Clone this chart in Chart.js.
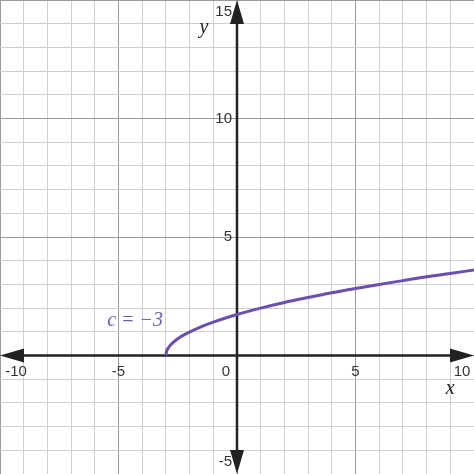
<!DOCTYPE html>
<html lang="en">
<head>
    <meta charset="UTF-8">
    <title>y = sqrt(x + 3)</title>
    <script src="https://cdn.jsdelivr.net/npm/chart.js"></script>
    <style>
        body, html {
            margin: 0;
            padding: 0;
            background: #fff;
        }
        canvas {
            display: block;
        }
    </style>
</head>
<body>
    <canvas id="graph" width="474" height="474"></canvas>
    <script>
        // points
        const curveX = [-3, -2.98, -2.9, -2.75, -2.5, -2.2, -1.5, -1, 0, 1, 2, 3, 4, 5, 6, 7, 8, 9, 10];
        const curveY = [0, 0.14, 0.32, 0.5, 0.71, 0.89, 1.22, 1.41, 1.73, 2, 2.24, 2.45, 2.65, 2.83, 3, 3.16, 3.32, 3.46, 3.61];

        const xTickLabels = [-10, -5, 0, 5, 10];
        const yTickLabels = [-5, 5, 10, 15];
        const curveLabel = 'c = \u22123';

        const xRange = [-10, 10];
        const yRange = [-5, 15];

        const axesPlugin = {
            id: 'axes',
            beforeDatasetsDraw(chart) {
                const ctx = chart.ctx;
                const xs = chart.scales.x;
                const ys = chart.scales.y;
                const x0 = xs.getPixelForValue(0);
                const y0 = ys.getPixelForValue(0);
                const left = chart.chartArea.left, right = chart.chartArea.right;
                const top = chart.chartArea.top, bottom = chart.chartArea.bottom;

                ctx.save();
                ctx.strokeStyle = '#222';
                ctx.fillStyle = '#222';
                ctx.lineWidth = 2.5;
                ctx.beginPath();
                ctx.moveTo(left + 10, y0); ctx.lineTo(right - 10, y0);
                ctx.moveTo(x0, top + 10); ctx.lineTo(x0, bottom - 10);
                ctx.stroke();

                // arrow heads
                const a = 24, w = 7;
                ctx.beginPath();
                ctx.moveTo(left, y0); ctx.lineTo(left + a, y0 - w); ctx.lineTo(left + a, y0 + w); ctx.closePath();
                ctx.moveTo(right, y0); ctx.lineTo(right - a, y0 - w); ctx.lineTo(right - a, y0 + w); ctx.closePath();
                ctx.moveTo(x0, top); ctx.lineTo(x0 - w, top + a); ctx.lineTo(x0 + w, top + a); ctx.closePath();
                ctx.moveTo(x0, bottom); ctx.lineTo(x0 - w, bottom - a); ctx.lineTo(x0 + w, bottom - a); ctx.closePath();
                ctx.fill();

                // tick labels
                ctx.fillStyle = '#333';
                ctx.font = '15px "Liberation Sans", Arial, sans-serif';
                ctx.textBaseline = 'middle';
                ctx.textAlign = 'center';
                xTickLabels.forEach(v => {
                    let px = xs.getPixelForValue(v);
                    if (v === 0) px -= 11;
                    if (v === -10) px += 16;
                    if (v === 10) px -= 12;
                    ctx.fillText(String(v).replace('-', '-'), px, y0 + 16);
                });
                ctx.textAlign = 'right';
                yTickLabels.forEach(v => {
                    let py = ys.getPixelForValue(v);
                    if (v === 15) py += 12;
                    if (v === -5) py -= 12;
                    ctx.fillText(String(v), x0 - 5, py);
                });

                // axis names
                ctx.fillStyle = '#222';
                ctx.font = 'italic 20px "Liberation Serif", "Times New Roman", serif';
                ctx.textAlign = 'center';
                ctx.fillText('y', x0 - 33, 28);
                ctx.fillText('x', xs.getPixelForValue(9), y0 + 33);

                // curve label
                ctx.fillStyle = '#6c5fb0';
                ctx.font = 'italic 20px "Liberation Serif", "Times New Roman", serif';
                ctx.fillText(curveLabel, xs.getPixelForValue(-4.3), ys.getPixelForValue(1.45));
                ctx.restore();
            }
        };

        new Chart(document.getElementById('graph').getContext('2d'), {
            type: 'line',
            data: {
                datasets: [{
                    data: curveX.map((x, i) => ({ x: x, y: curveY[i] })),
                    borderColor: '#6a4fb0',
                    borderWidth: 3,
                    pointRadius: 0,
                    cubicInterpolationMode: 'monotone',
                    fill: false
                }]
            },
            options: {
                responsive: false,
                animation: false,
                layout: { padding: 0 },
                plugins: {
                    legend: { display: false },
                    tooltip: { enabled: false }
                },
                scales: {
                    x: {
                        type: 'linear',
                        min: xRange[0],
                        max: xRange[1],
                        ticks: { display: false, stepSize: 1 },
                        border: { display: false },
                        grid: {
                            drawTicks: false,
                            lineWidth: 1,
                            color: c => (c.tick && c.tick.value % 5 === 0) ? '#9a9a9a' : '#cfcfcf'
                        }
                    },
                    y: {
                        type: 'linear',
                        min: yRange[0],
                        max: yRange[1],
                        ticks: { display: false, stepSize: 1 },
                        border: { display: false },
                        grid: {
                            drawTicks: false,
                            lineWidth: 1,
                            color: c => (c.tick && c.tick.value % 5 === 0) ? '#9a9a9a' : '#cfcfcf'
                        }
                    }
                }
            },
            plugins: [axesPlugin]
        });
    </script>
</body>
</html>
